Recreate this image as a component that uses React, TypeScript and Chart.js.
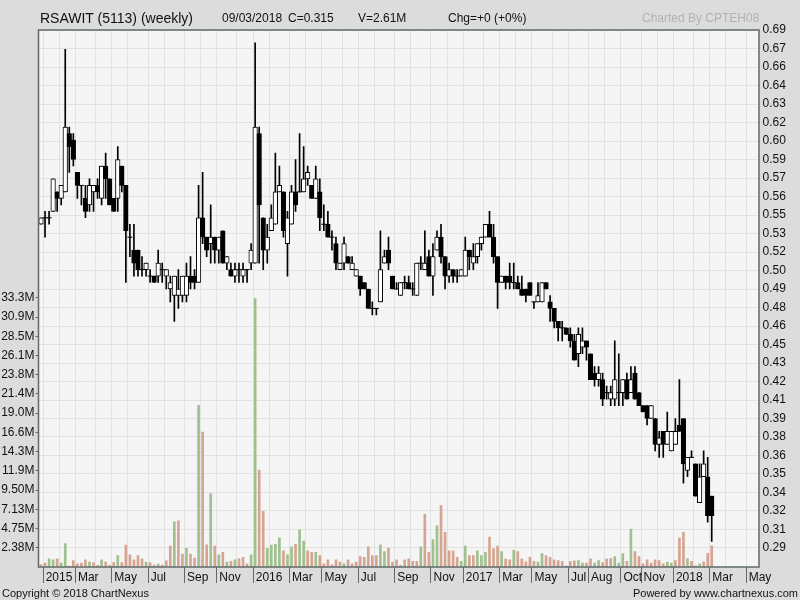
import React, { useEffect, useRef } from "react";
import { Chart, registerables } from "chart.js";

Chart.register(...registerables);

// Weekly candles, week 0 = week of 29 Dec 2014, last = week of 5 Mar 2018
const openPrices = [
  0.54, 0.545, 0.545, 0.55, 0.565, 0.56, 0.565, 0.61, 0.605, 0.58,
  0.57, 0.56, 0.555, 0.565, 0.57, 0.56, 0.585, 0.575, 0.56, 0.56,
  0.585, 0.57, 0.53, 0.52, 0.52, 0.505, 0.505, 0.5, 0.5, 0.5,
  0.505, 0.5, 0.49, 0.485, 0.485, 0.485, 0.485, 0.5, 0.5, 0.495,
  0.545, 0.53, 0.525, 0.53, 0.52, 0.535, 0.51, 0.505, 0.5, 0.505,
  0.5, 0.505, 0.51, 0.51, 0.61, 0.545, 0.52, 0.535, 0.54, 0.565,
  0.565, 0.525, 0.54, 0.565, 0.565, 0.565, 0.575, 0.57, 0.56, 0.565,
  0.54, 0.54, 0.53, 0.525, 0.505, 0.51, 0.515, 0.505, 0.5, 0.5,
  0.495, 0.49, 0.475, 0.475, 0.48, 0.51, 0.52, 0.5, 0.49, 0.485,
  0.495, 0.495, 0.49, 0.485, 0.51, 0.505, 0.515, 0.5, 0.52, 0.53,
  0.515, 0.5, 0.505, 0.5, 0.5, 0.5, 0.52, 0.51, 0.515, 0.525,
  0.53, 0.54, 0.53, 0.515, 0.495, 0.5, 0.5, 0.495, 0.495, 0.49,
  0.49, 0.495, 0.48, 0.48, 0.48, 0.495, 0.48, 0.475, 0.465, 0.46,
  0.46, 0.455, 0.45, 0.44, 0.445, 0.45, 0.44, 0.425, 0.42, 0.42,
  0.41, 0.405, 0.405, 0.41, 0.41, 0.42, 0.41, 0.425, 0.41, 0.4,
  0.4, 0.39, 0.39, 0.37, 0.38, 0.37, 0.365, 0.37, 0.385, 0.39,
  0.35, 0.36, 0.355, 0.325, 0.345, 0.345, 0.33,
];
const highPrices = [
  0.545, 0.55, 0.55, 0.575, 0.565, 0.57, 0.675, 0.615, 0.61, 0.58,
  0.57, 0.57, 0.575, 0.57, 0.575, 0.585, 0.595, 0.575, 0.56, 0.6,
  0.585, 0.57, 0.54, 0.54, 0.52, 0.515, 0.51, 0.505, 0.5, 0.52,
  0.51, 0.505, 0.5, 0.5, 0.505, 0.5, 0.51, 0.515, 0.505, 0.57,
  0.58, 0.53, 0.555, 0.53, 0.53, 0.535, 0.515, 0.51, 0.51, 0.51,
  0.51, 0.505, 0.525, 0.68, 0.615, 0.545, 0.54, 0.555, 0.595, 0.585,
  0.565, 0.55, 0.57, 0.59, 0.61, 0.6, 0.585, 0.57, 0.585, 0.575,
  0.555, 0.55, 0.535, 0.53, 0.51, 0.53, 0.515, 0.515, 0.505, 0.5,
  0.495, 0.49, 0.48, 0.475, 0.535, 0.52, 0.53, 0.5, 0.495, 0.495,
  0.5, 0.5, 0.495, 0.51, 0.515, 0.535, 0.52, 0.525, 0.535, 0.54,
  0.515, 0.51, 0.505, 0.505, 0.505, 0.53, 0.52, 0.525, 0.525, 0.53,
  0.54, 0.55, 0.54, 0.515, 0.5, 0.5, 0.51, 0.51, 0.5, 0.5,
  0.49, 0.495, 0.48, 0.495, 0.495, 0.495, 0.485, 0.475, 0.465, 0.465,
  0.46, 0.46, 0.455, 0.46, 0.46, 0.45, 0.44, 0.43, 0.43, 0.425,
  0.415, 0.415, 0.45, 0.44, 0.42, 0.425, 0.43, 0.43, 0.41, 0.4,
  0.4, 0.4, 0.39, 0.38, 0.38, 0.395, 0.38, 0.39, 0.42, 0.39,
  0.36, 0.365, 0.355, 0.355, 0.365, 0.36, 0.33,
];
const lowPrices = [
  0.54, 0.53, 0.54, 0.55, 0.55, 0.555, 0.565, 0.58, 0.585, 0.56,
  0.555, 0.545, 0.55, 0.55, 0.56, 0.555, 0.56, 0.555, 0.55, 0.55,
  0.565, 0.495, 0.515, 0.5, 0.5, 0.5, 0.5, 0.495, 0.495, 0.495,
  0.495, 0.49, 0.48, 0.465, 0.475, 0.48, 0.48, 0.49, 0.49, 0.495,
  0.525, 0.515, 0.51, 0.51, 0.51, 0.51, 0.505, 0.5, 0.495, 0.495,
  0.495, 0.495, 0.505, 0.51, 0.51, 0.505, 0.51, 0.535, 0.54, 0.565,
  0.53, 0.5, 0.54, 0.55, 0.565, 0.565, 0.57, 0.56, 0.56, 0.535,
  0.535, 0.53, 0.52, 0.505, 0.505, 0.505, 0.51, 0.505, 0.5, 0.485,
  0.49, 0.475, 0.47, 0.47, 0.48, 0.51, 0.505, 0.49, 0.49, 0.485,
  0.49, 0.49, 0.485, 0.485, 0.505, 0.505, 0.5, 0.485, 0.52, 0.51,
  0.49, 0.495, 0.495, 0.495, 0.5, 0.5, 0.505, 0.505, 0.51, 0.52,
  0.53, 0.53, 0.51, 0.475, 0.495, 0.49, 0.49, 0.49, 0.49, 0.485,
  0.48, 0.485, 0.475, 0.48, 0.48, 0.49, 0.465, 0.46, 0.45, 0.45,
  0.455, 0.445, 0.435, 0.43, 0.44, 0.435, 0.42, 0.415, 0.415, 0.4,
  0.405, 0.4, 0.4, 0.4, 0.4, 0.405, 0.41, 0.405, 0.4, 0.395,
  0.385, 0.39, 0.365, 0.36, 0.36, 0.37, 0.365, 0.37, 0.38, 0.34,
  0.345, 0.36, 0.33, 0.325, 0.345, 0.31, 0.295,
];
const closePrices = [
  0.545, 0.545, 0.545, 0.575, 0.56, 0.57, 0.615, 0.6, 0.59, 0.57,
  0.57, 0.55, 0.57, 0.57, 0.565, 0.585, 0.575, 0.555, 0.55, 0.59,
  0.57, 0.535, 0.53, 0.51, 0.505, 0.505, 0.51, 0.5, 0.495, 0.51,
  0.505, 0.505, 0.495, 0.5, 0.49, 0.5, 0.5, 0.495, 0.495, 0.545,
  0.53, 0.52, 0.53, 0.52, 0.53, 0.51, 0.515, 0.5, 0.505, 0.505,
  0.505, 0.505, 0.52, 0.615, 0.555, 0.52, 0.53, 0.545, 0.565, 0.57,
  0.535, 0.545, 0.565, 0.555, 0.565, 0.575, 0.58, 0.56, 0.575, 0.545,
  0.54, 0.53, 0.53, 0.51, 0.51, 0.525, 0.51, 0.51, 0.505, 0.49,
  0.49, 0.475, 0.475, 0.475, 0.505, 0.515, 0.51, 0.49, 0.49, 0.495,
  0.495, 0.49, 0.49, 0.51, 0.51, 0.51, 0.5, 0.515, 0.53, 0.515,
  0.5, 0.505, 0.5, 0.5, 0.505, 0.52, 0.515, 0.515, 0.525, 0.53,
  0.54, 0.53, 0.515, 0.495, 0.5, 0.495, 0.495, 0.495, 0.49, 0.485,
  0.485, 0.485, 0.48, 0.485, 0.495, 0.49, 0.475, 0.465, 0.46, 0.46,
  0.455, 0.45, 0.435, 0.455, 0.45, 0.445, 0.42, 0.42, 0.425, 0.405,
  0.41, 0.41, 0.42, 0.41, 0.42, 0.405, 0.42, 0.405, 0.4, 0.395,
  0.39, 0.4, 0.37, 0.375, 0.37, 0.38, 0.38, 0.38, 0.38, 0.355,
  0.36, 0.36, 0.33, 0.345, 0.355, 0.315, 0.315,
];
// weekly volume, millions of shares
const volumeMillions = [
  0.3, 0.5, 1.0, 0.9, 1.0, 0.5, 2.9, 0.1, 0.8, 0.4,
  0.5, 0.9, 0.6, 0.55, 0.2, 0.9, 0.6, 0.2, 0.55, 1.4,
  0.55, 2.7, 1.5, 0.9, 1.4, 1.0, 0.6, 0.55, 0.25, 0.35,
  0.25, 0.75, 2.6, 5.6, 5.7, 1.6, 2.3, 1.6, 1.1, 20.0,
  16.7, 2.75, 9.05, 2.6, 1.5, 1.8, 0.6, 0.7, 0.9, 1.0,
  1.2, 0.4, 1.5, 33.2, 12.0, 6.9, 2.3, 2.7, 2.8, 3.6,
  2.0, 1.5, 2.5, 2.8, 4.6, 3.2, 2.0, 1.8, 1.8, 1.4,
  0.4, 0.9, 0.3, 0.9, 0.6, 0.4, 0.9, 0.4, 0.6, 1.3,
  1.2, 2.5, 1.4, 1.4, 2.75, 1.9, 2.3, 0.6, 0.9, 0.2,
  0.9, 1.0, 0.7, 0.7, 2.5, 6.5, 1.8, 3.4, 5.1, 7.6,
  4.3, 2.0, 2.0, 1.2, 0.7, 2.6, 1.4, 1.4, 2.0, 1.4,
  1.8, 3.7, 2.25, 2.6, 1.9, 0.97, 0.89, 2.1, 1.9, 0.97,
  0.65, 1.2, 0.69, 0.6, 1.65, 1.4, 1.2, 0.9, 0.8, 0.7,
  0.15, 0.7, 0.77, 0.8, 0.48, 0.48, 1.0, 0.48, 0.8, 0.56,
  0.97, 1.05, 1.3, 0.48, 1.65, 0.7, 4.7, 1.9, 1.3, 0.4,
  0.9, 0.48, 0.9, 0.8, 0.4, 0.6, 0.48, 0.8, 3.6, 4.3,
  1.0, 0.7, 0.15, 0.4, 0.65, 1.7, 2.61,
];
// 1 = up week (green volume), 0 = down week
const volumeUp = [
  0, 0, 1, 1, 0, 1, 1, 0, 0, 0,
  0, 0, 1, 0, 0, 1, 0, 0, 0, 1,
  0, 0, 0, 0, 0, 0, 1, 0, 0, 1,
  0, 0, 0, 1, 0, 0, 1, 0, 0, 1,
  0, 0, 1, 0, 1, 0, 1, 0, 1, 0,
  0, 0, 1, 1, 0, 0, 1, 1, 1, 1,
  0, 1, 1, 0, 1, 1, 0, 0, 1, 0,
  0, 0, 0, 0, 0, 1, 0, 0, 0, 0,
  0, 0, 0, 0, 1, 1, 0, 0, 0, 1,
  0, 0, 0, 0, 1, 0, 0, 1, 1, 0,
  0, 0, 0, 0, 1, 1, 0, 0, 1, 1,
  1, 0, 0, 0, 1, 0, 0, 1, 0, 0,
  0, 0, 0, 1, 1, 0, 0, 0, 0, 0,
  0, 0, 0, 1, 1, 0, 0, 1, 1, 0,
  0, 0, 1, 1, 1, 0, 1, 0, 0, 0,
  0, 0, 0, 0, 0, 1, 1, 0, 0, 0,
  1, 0, 1, 1, 0, 0, 0,
];

const priceTickLabels = [
  "0.29", "0.31", "0.32", "0.34", "0.35", "0.36", "0.38", "0.39", "0.41", "0.42",
  "0.43", "0.45", "0.46", "0.48", "0.49", "0.50", "0.52", "0.53", "0.55", "0.56",
  "0.57", "0.59", "0.60", "0.62", "0.63", "0.64", "0.66", "0.67", "0.69",
];
const volumeTickLabels = [
  "2.38M", "4.75M", "7.13M", "9.50M", "11.9M", "14.3M", "16.6M",
  "19.0M", "21.4M", "23.8M", "26.1M", "28.5M", "30.9M", "33.3M",
];
// one entry per month, Jan 2015 .. May 2018
const monthLabels = [
  "2015", "", "Mar", "", "May", "", "Jul", "", "Sep", "", "Nov", "",
  "2016", "", "Mar", "", "May", "", "Jul", "", "Sep", "", "Nov", "",
  "2017", "", "Mar", "", "May", "", "Jul", "Aug", "", "Oct", "Nov", "",
  "2018", "", "Mar", "", "May",
];

const PRICE_TOP = 0.69;
const PRICE_STEP = 0.4 / 28;
const PRICE_BOTTOM = PRICE_TOP - PRICE_STEP * (537 / 18.5);
const VOL_STEP = 33.3 / 14;
const VOL_MAX = VOL_STEP * (537 / 19.23);

const DAY = 86400000;
const firstWeek = Date.UTC(2014, 11, 29);
const monthTicks = monthLabels.map((_, m) => {
  const days = (Date.UTC(2015, m, 1) - firstWeek) / DAY;
  return Math.ceil(days / 7) - 0.5;
});

const framePlugin = {
  id: "frame",
  beforeDraw(chart: any) {
    const { ctx, chartArea: a, width, height } = chart;
    ctx.save();
    ctx.fillStyle = "#dcdcdc";
    ctx.fillRect(0, 0, width, height);
    ctx.fillStyle = "#f5f5f5";
    ctx.fillRect(a.left, a.top, a.right - a.left, a.bottom - a.top);
    ctx.restore();
  },
  afterDraw(chart: any) {
    const { ctx, chartArea: a } = chart;
    ctx.save();
    ctx.strokeStyle = "#5f6a6a";
    ctx.lineWidth = 1.5;
    ctx.strokeRect(a.left, a.top, a.right - a.left, a.bottom - a.top);
    ctx.restore();
  },
};

export default function App() {
  const canvasRef = useRef<HTMLCanvasElement | null>(null);

  useEffect(() => {
    const canvas = canvasRef.current;
    if (!canvas) return;
    Chart.defaults.font.family = '"Liberation Sans", Arial, sans-serif';
    Chart.defaults.font.size = 12;
    Chart.defaults.color = "#111";

    const idx = openPrices.map((_, i) => i);
    const wicks = idx.map((i) => ({ x: i, y: [lowPrices[i], highPrices[i]] }));
    const bodies = idx
      .filter((i) => openPrices[i] !== closePrices[i])
      .map((i) => ({ x: i, y: [openPrices[i], closePrices[i]], up: closePrices[i] > openPrices[i] }));
    const dojis = idx
      .filter((i) => openPrices[i] === closePrices[i])
      .map((i) => ({ x: i, y: openPrices[i] }));
    const vols = idx.map((i) => ({ x: i, y: volumeMillions[i] }));

    const chart = new Chart(canvas, {
      type: "bar",
      data: {
        datasets: [
          {
            type: "scatter",
            label: "doji",
            data: dojis,
            pointStyle: "line",
            pointRadius: 2.5,
            pointHoverRadius: 2.5,
            pointBorderColor: "#000",
            pointBorderWidth: 1,
            pointBackgroundColor: "#000",
            xAxisID: "x",
            yAxisID: "yp",
            order: 0,
          } as any,
          {
            type: "bar",
            label: "body",
            data: bodies,
            backgroundColor: (c: any) => (c.raw && c.raw.up ? "#ffffff" : "#000000"),
            borderColor: "#000",
            borderWidth: 1,
            borderSkipped: false,
            barThickness: 4.6,
            grouped: false,
            xAxisID: "x",
            yAxisID: "yp",
            order: 1,
          } as any,
          {
            type: "bar",
            label: "wick",
            data: wicks,
            backgroundColor: "#000",
            borderWidth: 0,
            barThickness: 1,
            grouped: false,
            xAxisID: "x",
            yAxisID: "yp",
            order: 2,
          } as any,
          {
            type: "bar",
            label: "volume",
            data: vols,
            backgroundColor: idx.map((i) => (volumeUp[i] ? "#9fc18e" : "#d5a592")),
            borderWidth: 0,
            barThickness: 2,
            grouped: false,
            xAxisID: "x",
            yAxisID: "yv",
            order: 3,
          } as any,
        ],
      },
      options: {
        responsive: false,
        animation: false,
        devicePixelRatio: 1,
        events: [],
        layout: { padding: { top: 30, left: 0, right: 0, bottom: 0 } },
        plugins: { legend: { display: false }, tooltip: { enabled: false }, title: { display: false } },
        scales: {
          x: {
            type: "linear",
            position: "bottom",
            offset: false,
            min: -0.62,
            max: 177.7,
            border: { display: false },
            grid: {
              offset: false,
              color: "#e2e2e2",
              lineWidth: 1,
              drawTicks: true,
              tickLength: 16,
              tickWidth: 1,
              tickColor: (c: any) => (monthLabels[c.index] ? "#5f6a6a" : "rgba(0,0,0,0)"),
            },
            ticks: {
              autoSkip: false,
              maxRotation: 0,
              minRotation: 0,
              align: "start",
              labelOffset: 2.6,
              padding: -12.5,
              color: "#111",
              callback: (_v: any, i: number) => monthLabels[i],
            },
            afterBuildTicks: (s: any) => {
              s.ticks = monthTicks.map((v) => ({ value: v }));
            },
            afterFit: (s: any) => {
              s.height = 33;
            },
          } as any,
          yp: {
            type: "linear",
            position: "right",
            min: PRICE_BOTTOM,
            max: PRICE_TOP,
            border: { display: false },
            grid: { color: "#e2e2e2", lineWidth: 1, drawTicks: false },
            ticks: {
              padding: 3.5,
              color: "#111",
              callback: (_v: any, i: number) => priceTickLabels[i],
            },
            afterBuildTicks: (s: any) => {
              s.ticks = priceTickLabels.map((_, k) => ({ value: PRICE_TOP - PRICE_STEP * (28 - k) }));
            },
            afterFit: (s: any) => {
              s.width = 41;
            },
          } as any,
          yv: {
            type: "linear",
            position: "left",
            min: 0,
            max: VOL_MAX,
            border: { display: false },
            grid: { drawOnChartArea: false, drawTicks: true, tickLength: 3, tickColor: "#5f6a6a" },
            ticks: {
              padding: 1,
              color: "#111",
              callback: (_v: any, i: number) => volumeTickLabels[i],
            },
            afterBuildTicks: (s: any) => {
              s.ticks = volumeTickLabels.map((_, k) => ({ value: VOL_STEP * (k + 1) }));
            },
            afterFit: (s: any) => {
              s.width = 38.5;
            },
          } as any,
        },
      },
      plugins: [framePlugin],
    });
    return () => chart.destroy();
  }, []);

  const font = '"Liberation Sans", Arial, sans-serif';
  const txt = (left: number, top: number, size: number, color: string, text: string) => (
    <span
      style={{
        position: "absolute",
        left,
        top,
        fontSize: size,
        lineHeight: size + "px",
        color,
        whiteSpace: "nowrap",
        fontFamily: font,
      }}
    >
      {text}
    </span>
  );

  return (
    <div
      style={{
        position: "fixed",
        left: 0,
        top: 0,
        width: 800,
        height: 600,
        background: "#dcdcdc",
        overflow: "hidden",
      }}
    >
      <canvas ref={canvasRef} width={800} height={600} style={{ position: "absolute", left: 0, top: 0 }} />
      {txt(40, 10.6, 14, "#111", "RSAWIT (5113) (weekly)")}
      {txt(222, 12.3, 12, "#111", "09/03/2018")}
      {txt(288, 12.3, 12, "#111", "C=0.315")}
      {txt(358, 12.3, 12, "#111", "V=2.61M")}
      {txt(448, 12.3, 12, "#111", "Chg=+0 (+0%)")}
      {txt(642, 12.3, 12, "#b2b2b2", "Charted By CPTEH08")}
      {txt(2, 587.7, 11, "#111", "Copyright © 2018 ChartNexus")}
      <span
        style={{
          position: "absolute",
          right: 2,
          top: 587.7,
          fontSize: 11,
          lineHeight: "11px",
          color: "#111",
          whiteSpace: "nowrap",
          fontFamily: font,
        }}
      >
        Powered by www.chartnexus.com
      </span>
    </div>
  );
}
